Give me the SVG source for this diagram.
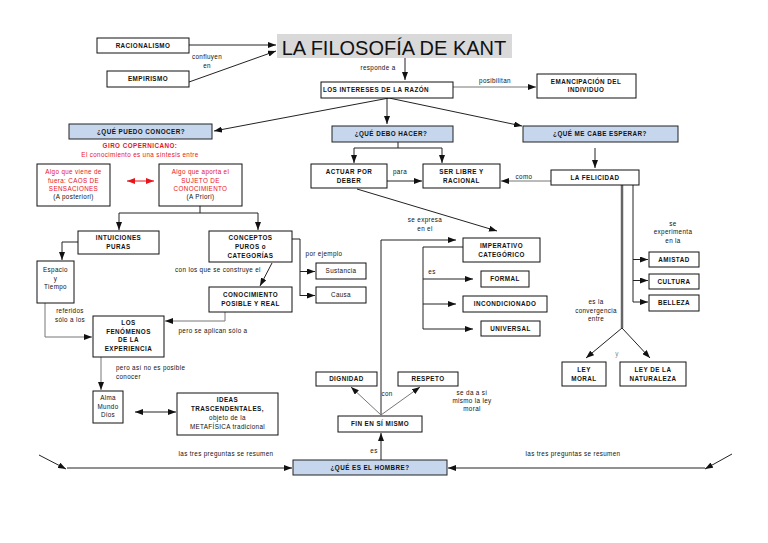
<svg xmlns="http://www.w3.org/2000/svg" width="768" height="543" viewBox="0 0 768 543">
<defs>
<style>
.b{fill:#fff;stroke:#111;stroke-width:1}
.q{fill:#c6d6ec;stroke:#222;stroke-width:1}
text{font-family:"Liberation Sans",Arial,sans-serif;font-size:6.3px;fill:#111;text-anchor:middle}
.t{font-weight:bold;letter-spacing:0.45px}
.s{letter-spacing:0.35px}
.r{fill:#e8141a}
.l{text-anchor:start}
.c{stroke:#222;stroke-width:1;fill:none}
.g{stroke:#777}
</style>
<marker id="a" viewBox="0 0 8 6" refX="8" refY="3" markerWidth="8" markerHeight="6" markerUnits="userSpaceOnUse" orient="auto-start-reverse"><path d="M0,0 L8,3 L0,6 z" fill="#111"/></marker>
<marker id="ar" viewBox="0 0 8 6" refX="8" refY="3" markerWidth="8" markerHeight="6" markerUnits="userSpaceOnUse" orient="auto-start-reverse"><path d="M0,0 L8,3 L0,6 z" fill="#e8141a"/></marker>
</defs>

<g id="connectors">
<path class="c" d="M189,45 H276" marker-end="url(#a)"/>
<path class="c" d="M189,82 L276,51" marker-end="url(#a)"/>
<path class="c" d="M405,58 V80" marker-end="url(#a)"/>
<path class="c g" d="M453,87 H536" marker-end="url(#a)"/>
<path class="c" d="M387,98 V124" marker-end="url(#a)"/>
<path class="c" d="M389,98 L214,131" marker-end="url(#a)"/>
<path class="c" d="M389,98 L522,126" marker-end="url(#a)"/>
<path class="c" d="M595,148 V168" marker-end="url(#a)"/>
<path class="c g" d="M551,181 H501" marker-end="url(#a)"/>
<path class="c" d="M398,142 V148 M354,148 H442"/>
<path class="c" d="M354,148 V163" marker-end="url(#a)"/>
<path class="c" d="M442,148 V163" marker-end="url(#a)"/>
<path class="c" d="M387,181 H422" marker-end="url(#a)"/>
<path class="c" d="M357,189 L497,231" marker-end="url(#a)"/>
<path class="c" d="M381,415 V240 H456" marker-end="url(#a)"/>
<path class="c" d="M463,247 H423 V329"/>
<path class="c" d="M423,279 H473" marker-end="url(#a)"/>
<path class="c" d="M423,304 H456" marker-end="url(#a)"/>
<path class="c" d="M423,329 H473" marker-end="url(#a)"/>
<path d="M622,185 V328" stroke="#666" stroke-width="2.5" fill="none"/>
<path class="c" d="M633,185 V302"/>
<path class="c" d="M633,259.5 H648" marker-end="url(#a)"/>
<path class="c" d="M633,280.5 H648" marker-end="url(#a)"/>
<path class="c" d="M633,302 H648" marker-end="url(#a)"/>
<path class="c" d="M622,328 L586,358" marker-end="url(#a)"/>
<path class="c" d="M622,328 L650,358" marker-end="url(#a)"/>
<path class="c" d="M200,206 V213 M119,213 H258"/>
<path class="c" d="M119,213 V230" marker-end="url(#a)"/>
<path class="c" d="M258,213 V230" marker-end="url(#a)"/>
<path d="M127,181 H154" stroke="#e8141a" stroke-width="1" fill="none" marker-start="url(#ar)" marker-end="url(#ar)"/>
<path class="c" d="M78,242 H62 V260" marker-end="url(#a)"/>
<path class="c g" d="M45,303 V337 H92" marker-end="url(#a)"/>
<path class="c" d="M272,263 L260,286" marker-end="url(#a)"/>
<path class="c" d="M292,239 H300 V296"/>
<path class="c" d="M300,271.5 H315" marker-end="url(#a)"/>
<path class="c" d="M300,295.5 H315" marker-end="url(#a)"/>
<path class="c g" d="M225,312 V321 H165" marker-end="url(#a)"/>
<path class="c g" d="M101,357 V390" marker-end="url(#a)"/>
<path class="c" d="M135,412 H176" marker-start="url(#a)" marker-end="url(#a)"/>
<path class="c" d="M381,460 V433" marker-end="url(#a)"/>
<path class="c g" d="M381,415 L351,387" marker-end="url(#a)"/>
<path class="c g" d="M381,415 L420,387" marker-end="url(#a)"/>
<path class="c" d="M39,455 L66,469" marker-end="url(#a)"/>
<path class="c" d="M67,468 H292" marker-end="url(#a)"/>
<path class="c" d="M732,454 L705,469" marker-end="url(#a)"/>
<path class="c" d="M705,468 H448" marker-end="url(#a)"/>
</g>

<g id="labels">
<text class="s" x="207" y="59">confluyen</text>
<text class="s" x="207" y="68">en</text>
<text class="s" x="378" y="70">responde  a</text>
<text class="s" x="495" y="83">posibilitan</text>
<text class="s" x="524" y="179">como</text>
<text class="s" x="400" y="174">para</text>
<text class="s" x="425" y="222">se expresa</text>
<text class="s" x="425" y="231">en el</text>
<text class="s" x="432" y="274">es</text>
<text class="s" x="673" y="226">se</text>
<text class="s" x="673" y="234">experimenta</text>
<text class="s" x="673" y="243">en la</text>
<text class="s" x="596" y="304">es la</text>
<text class="s" x="596" y="313">convergencia</text>
<text class="s" x="596" y="321">entre</text>
<text class="s" x="617" y="356" style="fill:#888">y</text>
<text class="t r" x="140" y="148">GIRO COPERNICANO:</text>
<text class="s r" x="140" y="157">El conocimiento es una síntesis entre</text>
<text class="s" x="70" y="313">referidos</text>
<text class="s" x="70" y="322">sólo a los</text>
<text class="s" x="218" y="272">con los que se construye el</text>
<text class="s" x="324" y="256">por ejemplo</text>
<text class="s" x="213" y="333">pero se aplican sólo a</text>
<text class="s l" x="116" y="370">pero así no es posible</text>
<text class="s l" x="116" y="379">conocer</text>
<text class="s" x="374" y="453">es</text>
<text class="s" x="387" y="396">con</text>
<text class="s" x="472" y="395">se da a sí</text>
<text class="s" x="472" y="403">mismo la ley</text>
<text class="s" x="472" y="411">moral</text>
<text class="s" x="226" y="456">las tres preguntas se resumen</text>
<text class="s" x="573" y="456">las tres preguntas se resumen</text>
</g>

<g id="title"><rect x="277" y="34" width="235" height="24" fill="#d9d9d9"/><text x="394" y="55" style="font-size:20px;fill:#111">LA FILOSOFÍA DE KANT</text></g>
<g id="racionalismo"><rect class="b" x="97" y="38" width="92" height="15"/><text class="t" x="143" y="48">RACIONALISMO</text></g>
<g id="empirismo"><rect class="b" x="107" y="71" width="82" height="16"/><text class="t" x="148" y="81">EMPIRISMO</text></g>
<g id="intereses"><rect class="b" x="321" y="82" width="132" height="16"/><text class="t" x="376" y="92">LOS INTERESES DE LA RAZÓN</text></g>
<g id="emancipacion"><rect class="b" x="537" y="74" width="99" height="24"/><text class="t" x="586" y="84">EMANCIPACIÓN DEL</text><text class="t" x="586" y="92">INDIVIDUO</text></g>
<g id="puedo"><rect class="q" x="69" y="124" width="143" height="15"/><text class="t" x="141" y="134">¿QUÉ PUEDO CONOCER?</text></g>
<g id="debo"><rect class="q" x="332" y="126" width="121" height="16"/><text class="t" x="391" y="136">¿QUÉ DEBO HACER?</text></g>
<g id="esperar"><rect class="q" x="523" y="126" width="155" height="16"/><text class="t" x="600" y="136">¿QUÉ ME CABE ESPERAR?</text></g>
<g id="fuera"><rect class="b" x="37" y="164" width="73" height="42"/><text class="s r" x="73.5" y="174">Algo que viene de</text><text class="s r" x="73.5" y="182.5">fuera: CAOS DE</text><text class="s r" x="73.5" y="191">SENSACIONES</text><text class="s" x="73.5" y="199">(A posteriori)</text></g>
<g id="aporta"><rect class="b" x="159" y="164" width="83" height="42"/><text class="s r" x="200.5" y="174">Algo que aporta el</text><text class="s r" x="200.5" y="182.5">SUJETO DE</text><text class="s r" x="200.5" y="191">CONOCIMIENTO</text><text class="s" x="200.5" y="199">(A Priori)</text></g>
<g id="intuiciones"><rect class="b" x="78" y="231" width="81" height="23"/><text class="t" x="118.5" y="240">INTUICIONES</text><text class="t" x="118.5" y="249">PURAS</text></g>
<g id="conceptos"><rect class="b" x="209" y="231" width="83" height="31"/><text class="t" x="250.5" y="240">CONCEPTOS</text><text class="t" x="250.5" y="249">PUROS o</text><text class="t" x="250.5" y="258">CATEGORÍAS</text></g>
<g id="espacio"><rect class="b" x="37" y="261" width="37" height="42"/><text class="s" x="55.5" y="272">Espacio</text><text class="s" x="55.5" y="281">y</text><text class="s" x="55.5" y="289">Tiempo</text></g>
<g id="conocimiento"><rect class="b" x="209" y="287" width="83" height="25"/><text class="t" x="250.5" y="297">CONOCIMIENTO</text><text class="t" x="250.5" y="306">POSIBLE Y REAL</text></g>
<g id="sustancia"><rect class="b" x="316" y="263" width="50" height="16"/><text class="s" x="341" y="273">Sustancia</text></g>
<g id="causa"><rect class="b" x="316" y="287" width="50" height="16"/><text class="s" x="341" y="297">Causa</text></g>
<g id="fenomenos"><rect class="b" x="93" y="316" width="71" height="41"/><text class="t" x="128.5" y="325">LOS</text><text class="t" x="128.5" y="333.5">FENÓMENOS</text><text class="t" x="128.5" y="342">DE LA</text><text class="t" x="128.5" y="351">EXPERIENCIA</text></g>
<g id="alma"><rect class="b" x="93" y="391" width="30" height="32"/><text class="s" x="108" y="400">Alma</text><text class="s" x="108" y="408.5">Mundo</text><text class="s" x="108" y="417">Dios</text></g>
<g id="ideas"><rect class="b" x="177" y="393" width="101" height="42"/><text class="t" x="227.5" y="402">IDEAS</text><text class="t" x="227.5" y="411">TRASCENDENTALES,</text><text class="s" x="227.5" y="420">objeto de la</text><text class="s" x="227.5" y="429">METAFÍSICA tradicional</text></g>
<g id="actuar"><rect class="b" x="311" y="164" width="76" height="24"/><text class="t" x="349" y="174">ACTUAR POR</text><text class="t" x="349" y="183">DEBER</text></g>
<g id="serlibre"><rect class="b" x="423" y="164" width="77" height="24"/><text class="t" x="461.5" y="174">SER LIBRE Y</text><text class="t" x="461.5" y="183">RACIONAL</text></g>
<g id="felicidad"><rect class="b" x="551" y="170" width="88" height="15"/><text class="t" x="595" y="180">LA FELICIDAD</text></g>
<g id="imperativo"><rect class="b" x="463" y="238" width="77" height="24"/><text class="t" x="501.5" y="248">IMPERATIVO</text><text class="t" x="501.5" y="257">CATEGÓRICO</text></g>
<g id="formal"><rect class="b" x="481" y="271" width="48" height="16"/><text class="t" x="505" y="281">FORMAL</text></g>
<g id="incondicionado"><rect class="b" x="463" y="296" width="84" height="16"/><text class="t" x="505" y="306">INCONDICIONADO</text></g>
<g id="universal"><rect class="b" x="481" y="321" width="59" height="15"/><text class="t" x="510.5" y="330.5">UNIVERSAL</text></g>
<g id="amistad"><rect class="b" x="649" y="252" width="50" height="15"/><text class="t" x="674" y="261.5">AMISTAD</text></g>
<g id="cultura"><rect class="b" x="649" y="274" width="50" height="15"/><text class="t" x="674" y="283.5">CULTURA</text></g>
<g id="belleza"><rect class="b" x="649" y="295" width="50" height="16"/><text class="t" x="674" y="305">BELLEZA</text></g>
<g id="leymoral"><rect class="b" x="562" y="362" width="44" height="24"/><text class="t" x="584" y="372">LEY</text><text class="t" x="584" y="380.5">MORAL</text></g>
<g id="leynaturaleza"><rect class="b" x="620" y="362" width="66" height="24"/><text class="t" x="653" y="372">LEY DE LA</text><text class="t" x="653" y="380.5">NATURALEZA</text></g>
<g id="dignidad"><rect class="b" x="316" y="372" width="61" height="14"/><text class="t" x="346.5" y="381">DIGNIDAD</text></g>
<g id="respeto"><rect class="b" x="398" y="372" width="60" height="14"/><text class="t" x="428" y="381">RESPETO</text></g>
<g id="fin"><rect class="b" x="338" y="416" width="84" height="16"/><text class="t" x="380" y="426">FIN EN SÍ MISMO</text></g>
<g id="hombre"><rect class="q" x="293" y="460" width="154" height="15"/><text class="t" x="370" y="470">¿QUÉ ES EL HOMBRE?</text></g>
</svg>
